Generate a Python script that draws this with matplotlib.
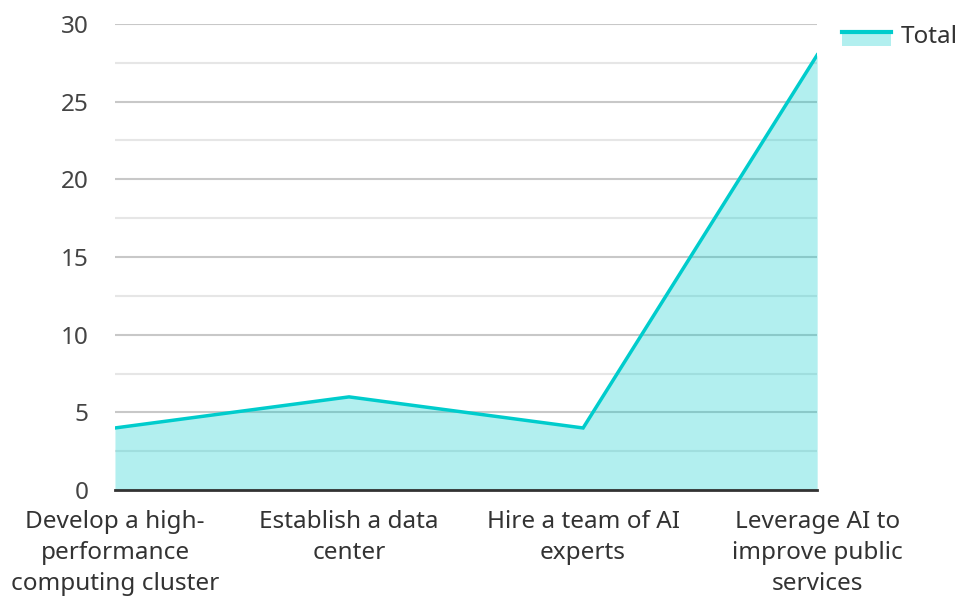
import matplotlib
matplotlib.use("Agg")
import matplotlib.pyplot as plt
from matplotlib.legend_handler import HandlerBase
from matplotlib.patches import Rectangle
from matplotlib.lines import Line2D

categories = [
    "Develop a high-\nperformance\ncomputing cluster",
    "Establish a data\ncenter",
    "Hire a team of AI\nexperts",
    "Leverage AI to\nimprove public\nservices",
]
totals = [4, 6, 4, 28]
y_ticks = [0, 5, 10, 15, 20, 25, 30]
y_minor = [2.5, 7.5, 12.5, 17.5, 22.5, 27.5]

line_color = "#00cccc"
text_color = "#444444"
fs = 17.5

plt.rcParams["font.family"] = ["Noto Sans", "DejaVu Sans"]


class AreaHandler(HandlerBase):
    # patch hanging under the line, like the reference legend swatch
    def create_artists(self, legend, orig, xd, yd, w, h, fontsize, trans):
        top = -yd + 0.65 * h
        patch = Rectangle((-xd, top - 0.8 * h), w, 0.8 * h,
                          facecolor=line_color, alpha=0.3, edgecolor="none",
                          transform=trans)
        line = Line2D([-xd, -xd + w], [top, top], color=line_color, lw=3,
                      transform=trans)
        return [patch, line]


fig = plt.figure(figsize=(9.58, 5.97), dpi=100)
ax = fig.add_axes([0.120, 0.179, 0.733, 0.781])

x = list(range(len(categories)))
ax.fill_between(x, totals, 0, color=line_color, alpha=0.3, linewidth=0, zorder=2)
ax.plot(x, totals, color=line_color, lw=2.5, zorder=3, solid_joinstyle="miter")

ax.set_xlim(0, len(categories) - 1)
ax.set_ylim(0, 30)
ax.set_yticks(y_ticks)
ax.set_yticks(y_minor, minor=True)
ax.set_xticks(x)
ax.set_xticklabels(categories, fontsize=fs, color="#333333", linespacing=1.39)
ax.tick_params(axis="y", which="both", length=0, pad=19, labelsize=fs,
               labelcolor=text_color)
ax.tick_params(axis="x", length=0, pad=14)

ax.grid(axis="y", which="major", color="#c8c8c8", lw=1.5, zorder=1)
ax.grid(axis="y", which="minor", color="#e6e6e6", lw=1.5, zorder=1)
ax.set_axisbelow(True)

for side in ["left", "right", "top"]:
    ax.spines[side].set_visible(False)
ax.spines["bottom"].set_color("#333333")
ax.spines["bottom"].set_linewidth(2)
ax.spines["bottom"].set_zorder(4)

handle = Rectangle((0, 0), 1, 1)
fig.legend([handle], ["Total"], handler_map={Rectangle: AreaHandler()},
           loc="upper left", bbox_to_anchor=(0.856, 0.994), frameon=False,
           fontsize=fs, handlelength=2.0, handletextpad=0.4,
           labelcolor="#333333")

fig.savefig("out.png", dpi=100)
